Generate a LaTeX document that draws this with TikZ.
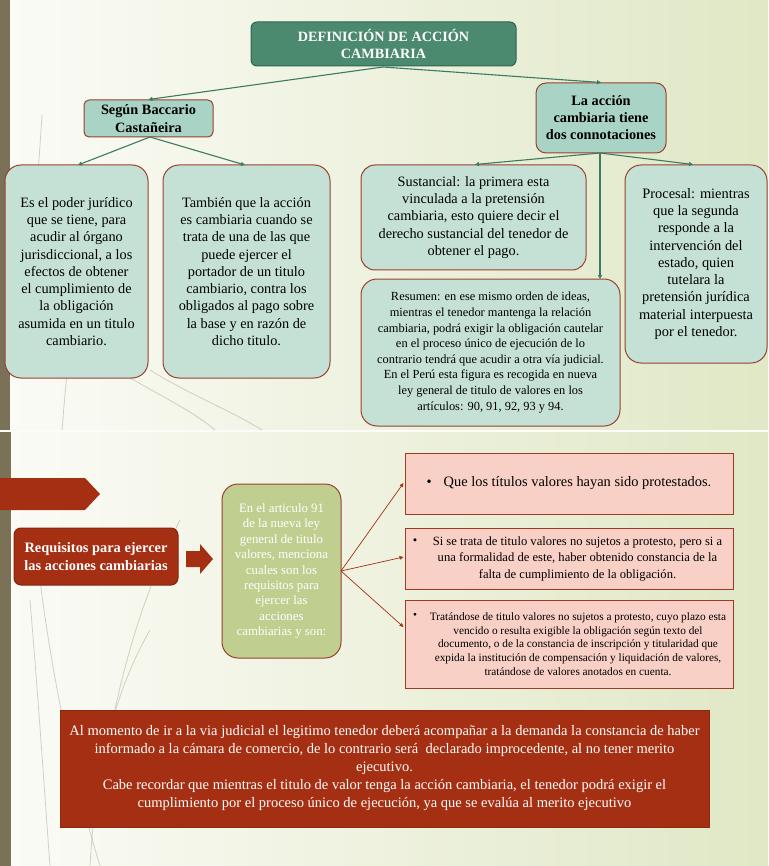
\documentclass[tikz,border=0pt]{standalone}
\usepackage{fontspec}
\setmainfont{Liberation Serif}
\usetikzlibrary{arrows.meta,shapes.geometric}
\definecolor{bgL}{HTML}{FBFBF6}
\definecolor{bgR}{HTML}{E0E8C6}
\definecolor{stripe}{HTML}{7A7157}
\definecolor{titlefill}{HTML}{4B8A6E}
\definecolor{titledraw}{HTML}{2F6650}
\definecolor{tealA}{HTML}{A9D3C4}
\definecolor{tealB}{HTML}{C5E1D6}
\definecolor{brownb}{HTML}{9A4030}
\definecolor{arrowg}{HTML}{3D7A5F}
\definecolor{redb}{HTML}{A52F13}
\definecolor{greenbox}{HTML}{C0CF8F}
\definecolor{pinkbox}{HTML}{F9D0C6}
\definecolor{pinkdraw}{HTML}{A03A25}
\definecolor{grass}{HTML}{8A8470}
\tikzset{
  box/.style={draw=brownb, line width=1pt, align=center, inner sep=0pt, text=black},
  conn/.style={draw=arrowg, line width=1.1pt, -{Triangle[length=4pt,width=4pt]}},
  rconn/.style={draw=redb, line width=0.7pt, -{Triangle[length=4pt,width=3.5pt]}},
  grassline/.style={draw=grass, line width=0.8pt, opacity=0.35},
}
\begin{document}
\begin{tikzpicture}[x=1pt,y=-1pt]
\useasboundingbox (0,0) rectangle (768,866);
% backgrounds
\shade[left color=bgL, right color=bgR] (0,0) rectangle (768,430);
\shade[left color=bgL, right color=bgR] (0,432) rectangle (768,866);
\fill[white!90!bgR] (0,430) rectangle (768,432);
\fill[stripe] (0,0) rectangle (10,430);
\fill[stripe] (0,432) rectangle (11,866);
% decorative grass
\draw[grassline] (42,115) .. controls (38,180) and (34,220) .. (30,260);
\draw[grassline] (80,240) .. controls (72,320) and (66,380) .. (62,430);
\draw[grassline] (60,330) .. controls (120,380) and (180,400) .. (215,430);
\draw[grassline] (150,370) .. controls (190,395) and (230,410) .. (262,430);
\draw[grassline] (40,580) .. controls (55,700) and (80,800) .. (100,866);
\draw[grassline] (30,600) .. controls (40,720) and (45,800) .. (50,866);
\draw[grassline] (180,520) .. controls (130,620) and (110,720) .. (100,800);
\draw[grassline] (150,630) .. controls (110,700) and (95,780) .. (90,866);
% ---------- top slide ----------
\node[box, draw=titledraw, fill=titlefill, rounded corners=6pt, minimum width=265pt, minimum height=44pt, text=white, font=\fontsize{14.2}{17}\selectfont\bfseries] (title) at (383.5,44) {DEFINICIÓN DE ACCIÓN\\CAMBIARIA};
\node[box, fill=tealA, rounded corners=5pt, minimum width=129pt, minimum height=37pt, font=\fontsize{14.3}{18}\selectfont\bfseries] (segun) at (148.5,118.5) {Según Baccario\\Castañeira};
\node[box, fill=tealA, rounded corners=10pt, minimum width=130pt, minimum height=70pt, font=\fontsize{14.3}{17}\selectfont\bfseries] (dos) at (601,118) {La acción\\cambiaria tiene\\dos connotaciones};
\node[box, fill=tealB, rounded corners=16pt, minimum width=143pt, minimum height=213pt, font=\fontsize{14.3}{17.25}\selectfont] (b1) at (76.5,271.5) {Es el poder jurídico\\que se tiene, para\\acudir al órgano\\jurisdiccional, a los\\efectos de obtener\\el cumplimiento de\\la obligación\\asumida en un titulo\\cambiario.};
\node[box, fill=tealB, rounded corners=16pt, minimum width=167pt, minimum height=213pt, font=\fontsize{14.3}{17.25}\selectfont] (b2) at (246.5,271.5) {También que la acción\\es cambiaria cuando se\\trata de una de las que\\puede ejercer el\\portador de un titulo\\cambiario, contra los\\obligados al pago sobre\\la base y en razón de\\dicho titulo.};
\node[box, fill=tealB, rounded corners=14pt, minimum width=225pt, minimum height=105pt, font=\fontsize{14.3}{17.25}\selectfont] (sus) at (473.5,217.5) {Sustancial: la primera esta\\vinculada a la pretensión\\cambiaria, esto quiere decir el\\derecho sustancial del tenedor de\\obtener el pago.};
\node[box, fill=tealB, rounded corners=16pt, minimum width=142pt, minimum height=198pt, font=\fontsize{14.4}{17.25}\selectfont] (pro) at (696,264) {Procesal: mientras\\que la segunda\\responde a la\\intervención del\\estado, quien\\tutelara la\\pretensión jurídica\\material interpuesta\\por el tenedor.};
\node[box, fill=tealB, rounded corners=16pt, minimum width=259pt, minimum height=147pt, font=\fontsize{12.4}{15.6}\selectfont] (res) at (490.5,352.5) {Resumen: en ese mismo orden de ideas,\\mientras el tenedor mantenga la relación\\cambiaria, podrá exigir la obligación cautelar\\en el proceso único de ejecución de lo\\contrario tendrá que acudir a otra vía judicial.\\En el Perú esta figura es recogida en nueva\\ley general de titulo de valores en los\\artículos: 90, 91, 92, 93 y 94.};
% connectors top
\coordinate (tb) at (383,67);
\draw[conn] (tb) -- (segun.north);
\draw[conn] (tb) -- (dos.north);
\coordinate (sb) at (150,137);
\draw[conn] (sb) -- (78,165);
\draw[conn] (sb) -- (245,165);
\coordinate (db) at (600,153);
\draw[conn] (db) -- (475,164.5);
\draw[conn] (db) -- (693,164.5);
\draw[conn] (db) -- (600,279);
% ---------- bottom slide ----------
\fill[redb] (0,478) -- (85,478) -- (100,494) -- (85,510) -- (0,510) -- cycle;
\node[box, draw=redb!80!black, fill=redb, rounded corners=7pt, minimum width=164pt, minimum height=57pt, text=white, font=\fontsize{14.4}{18.5}\selectfont\bfseries] (req) at (96,556.5) {Requisitos para ejercer\\las acciones cambiarias};
\fill[redb] (186,551) -- (200,551) -- (200,544) -- (213,559) -- (200,574) -- (200,567) -- (186,567) -- cycle;
\node[box, fill=greenbox, rounded corners=16pt, minimum width=119pt, minimum height=174pt, text=white, font=\fontsize{12.8}{15.4}\selectfont] (art) at (281.5,571) {En el articulo 91\\de la nueva ley\\general de titulo\\valores, menciona\\cuales son los\\requisitos para\\ejercer las\\acciones\\cambiarias y son:};
\node[box, draw=pinkdraw, fill=pinkbox, minimum width=328pt, minimum height=61pt, font=\fontsize{14.4}{16}\selectfont] (p1) at (569,483.5) {•\hspace{12pt}Que los títulos valores hayan sido protestados.};
\node[box, draw=pinkdraw, fill=pinkbox, minimum width=328pt, minimum height=61pt, font=\fontsize{12.6}{16.5}\selectfont] (p2) at (569,558.5) {\hspace{17pt}Si se trata de titulo valores no sujetos a protesto, pero si a\\\hspace{17pt}una formalidad de este, haber obtenido constancia de la\\\hspace{17pt}falta de cumplimiento de la obligación.};
\node[font=\fontsize{12.6}{16}\selectfont, inner sep=0pt] (p2b) at (415,542) {•};
\node[box, draw=pinkdraw, fill=pinkbox, minimum width=328pt, minimum height=88pt, font=\fontsize{11.3}{13.6}\selectfont] (p3) at (569,644) {\hspace{18pt}Tratándose de titulo valores no sujetos a protesto, cuyo plazo esta\\\hspace{18pt}vencido o resulta exigible la obligación según texto del\\\hspace{18pt}documento, o de la constancia de inscripción y titularidad que\\\hspace{18pt}expida la institución de compensación y liquidación de valores,\\\hspace{18pt}tratándose de valores anotados en cuenta.};
\node[font=\fontsize{11.3}{13.5}\selectfont, inner sep=0pt] (p3b) at (415,616) {•};
\coordinate (ar) at (341,571);
\draw[rconn] (ar) -- (403.5,483);
\draw[rconn] (ar) -- (403.5,557);
\draw[rconn] (ar) -- (403.5,627);
\node[box, draw=redb!85!black, fill=redb, minimum width=649pt, minimum height=117pt, text=white, font=\fontsize{14.5}{18}\selectfont] (fin) at (384.5,768.5) {Al momento de ir a la via judicial el legitimo tenedor deberá acompañar a la demanda la constancia de haber\\informado a la cámara de comercio, de lo contrario será\ \ declarado improcedente, al no tener merito\\ejecutivo.\\Cabe recordar que mientras el titulo de valor tenga la acción cambiaria, el tenedor podrá exigir el\\cumplimiento por el proceso único de ejecución, ya que se evalúa al merito ejecutivo};
\end{tikzpicture}
\end{document}
